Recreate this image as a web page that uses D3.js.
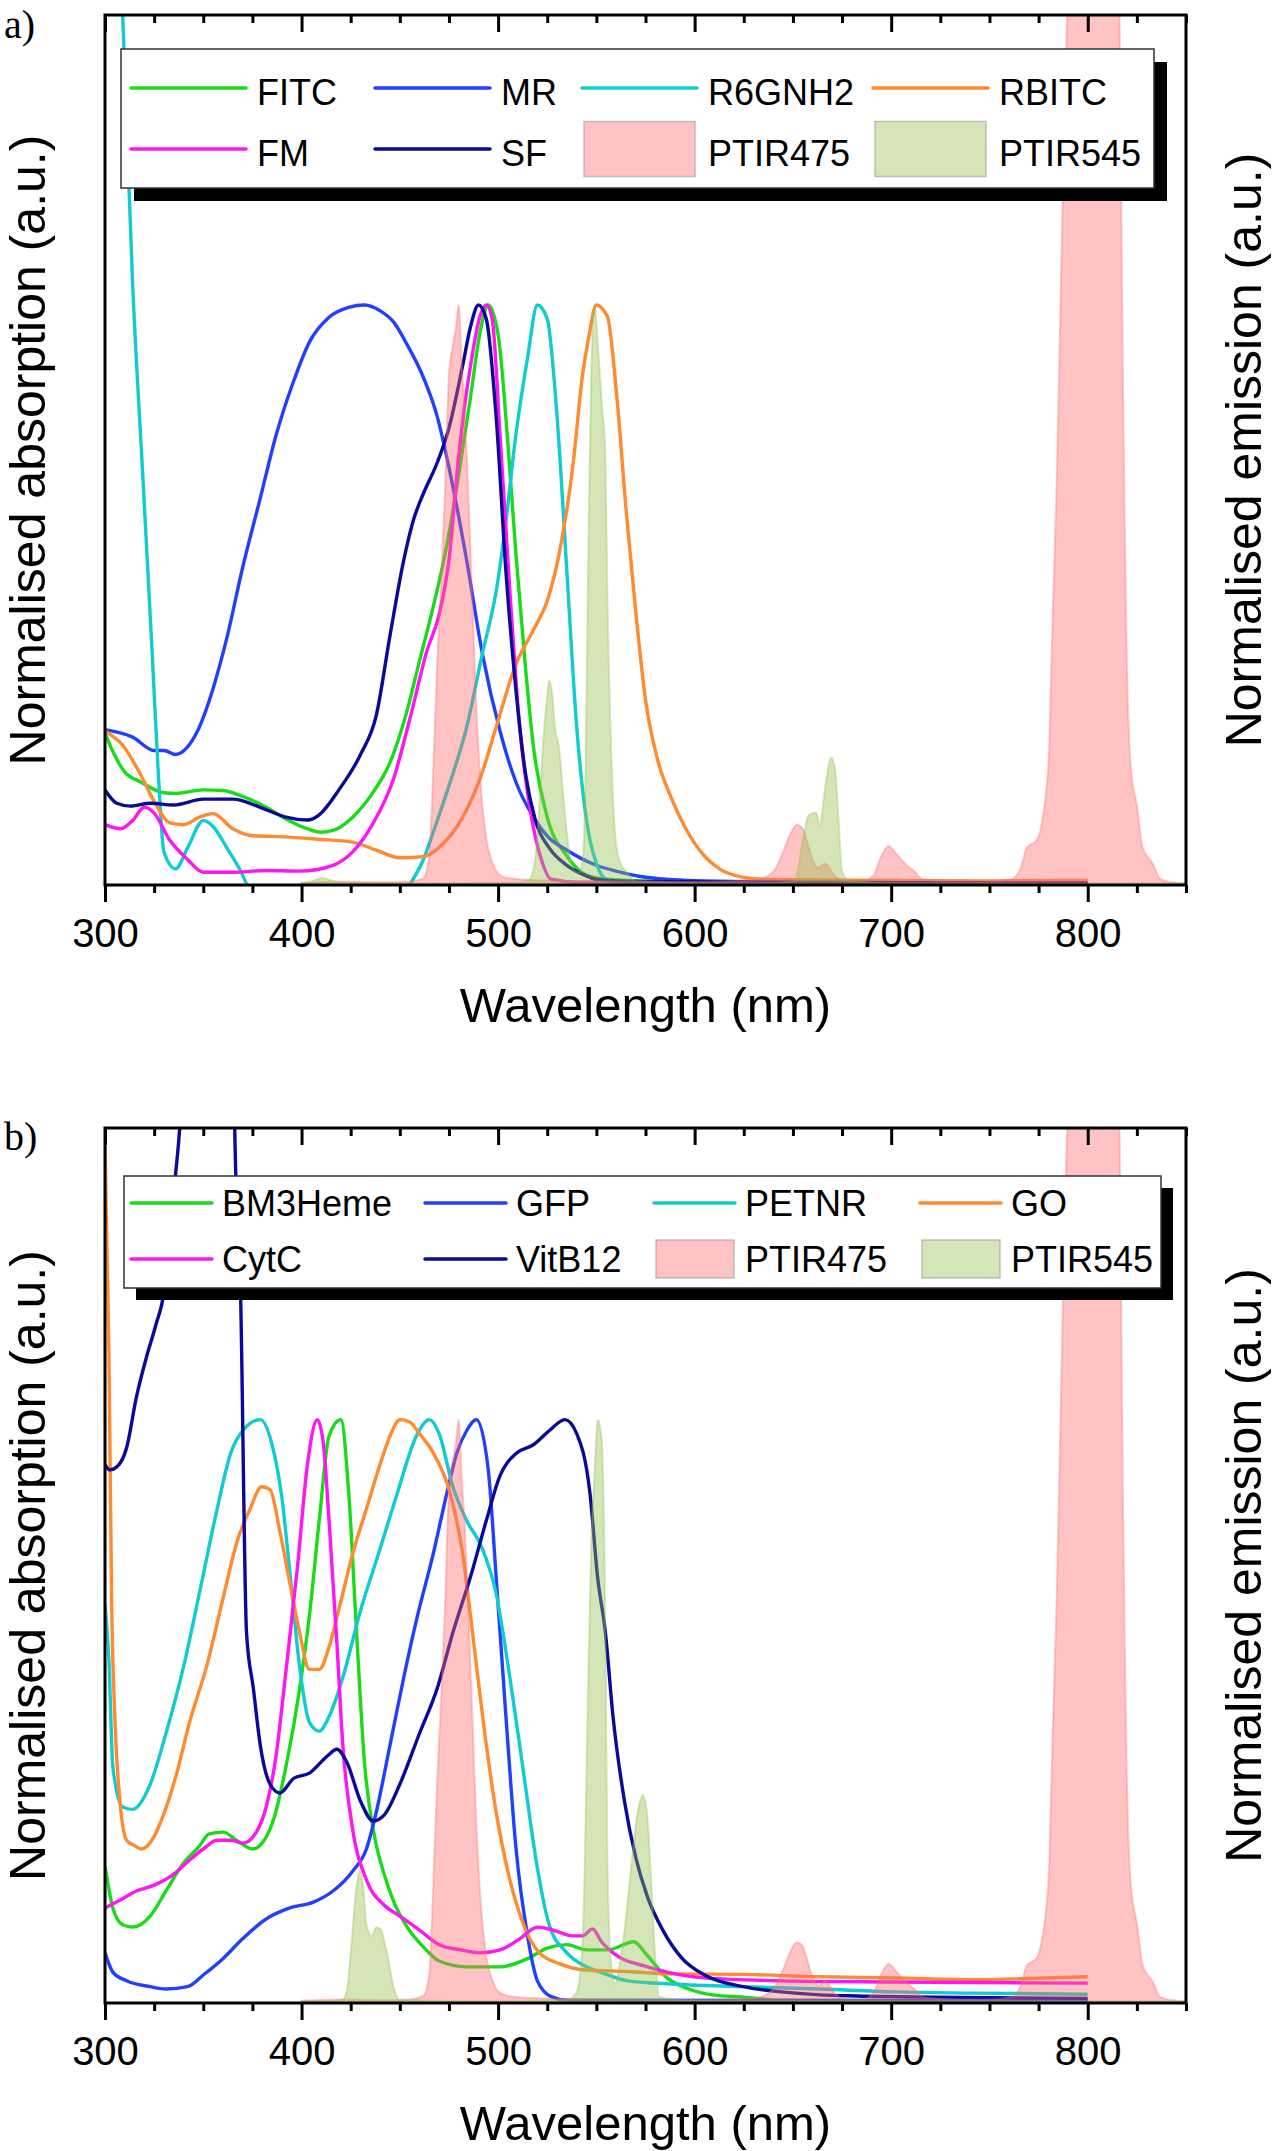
<!DOCTYPE html>
<html>
<head>
<meta charset="utf-8">
<script src="https://cdn.jsdelivr.net/npm/d3@7"></script>
<style>
  body { margin: 0; background: #fff; }
  svg text { font-family: "Liberation Sans", Arial, sans-serif; fill: #000; }
</style>
</head>
<body>
<div id="chart"></div>
<script>
// ---- data: [wavelength nm, normalised value] ----
// panel a) absorption
var fitc = [[300,0.262],[304,0.23],[310,0.195],[318,0.178],[330,0.159],[336,0.158],[350,0.164],[360,0.163],[369,0.154],[382,0.134],[392,0.114],[403,0.097],[410,0.091],[416,0.094],[426,0.117],[436,0.158],[445,0.211],[453,0.292],[460,0.386],[467,0.48],[474,0.587],[480,0.708],[486,0.842],[491,0.956],[495,1.0],[500,0.949],[505,0.761],[509,0.574],[514,0.372],[518,0.238],[525,0.117],[535,0.05],[545,0.017],[555,0.01],[600,0.005],[700,0.004],[800,0.003]];
var mr = [[300,0.268],[314,0.255],[325,0.232],[330,0.232],[336,0.225],[342,0.238],[347,0.265],[355,0.339],[362,0.426],[370,0.547],[379,0.667],[387,0.775],[396,0.869],[404,0.936],[414,0.979],[424,0.996],[432,1.0],[440,0.99],[447,0.97],[453,0.936],[462,0.875],[469,0.808],[475,0.72],[484,0.56],[492,0.399],[501,0.265],[509,0.178],[518,0.117],[526,0.081],[535,0.06],[550,0.034],[560,0.024],[576,0.013],[605,0.007],[650,0.005],[800,0.004]];
var r6gnh2 = [[300,2.2],[305,1.8],[309,1.5],[314,1.04],[319,0.72],[324,0.4],[327,0.2],[330,0.057],[336,0.028],[342,0.064],[350,0.111],[355,0.101],[362,0.064],[369,0.024],[375,-0.02],[390,-0.08],[420,-0.1],[445,-0.05],[455,0.0],[462,0.044],[467,0.091],[475,0.171],[484,0.272],[492,0.399],[499,0.506],[504,0.627],[509,0.775],[515,0.909],[520,1.0],[525,0.976],[530,0.808],[535,0.54],[540,0.272],[545,0.111],[550,0.037],[555,0.01],[570,0.003],[800,0.002]];
var rbitc = [[300,0.265],[309,0.241],[318,0.191],[326,0.138],[333,0.107],[340,0.104],[348,0.117],[355,0.123],[365,0.097],[375,0.085],[391,0.083],[408,0.079],[426,0.074],[438,0.06],[450,0.047],[462,0.049],[472,0.071],[482,0.117],[491,0.185],[499,0.272],[509,0.38],[518,0.44],[525,0.49],[531,0.57],[538,0.721],[543,0.88],[546,0.942],[550,1.0],[555.6,0.98],[560.4,0.842],[565.3,0.64],[570.2,0.466],[575,0.319],[581,0.218],[588,0.151],[595.5,0.097],[605,0.05],[613,0.027],[625,0.013],[634,0.01],[650,0.009],[700,0.008],[750,0.007],[800,0.008]];
var fm = [[300,0.104],[308,0.097],[314,0.111],[320,0.134],[325,0.124],[333,0.077],[342,0.044],[350,0.022],[365,0.022],[382,0.025],[399,0.024],[416,0.034],[426,0.057],[436,0.104],[447,0.185],[455,0.285],[464,0.406],[470,0.466],[475,0.56],[480,0.741],[486,0.896],[491,0.983],[494,1.0],[497,0.976],[501,0.775],[506,0.506],[511,0.272],[517,0.117],[522,0.044],[527,0.01],[540,0.005],[800,0.003]];
var sf = [[300,0.164],[306,0.141],[313,0.136],[323,0.141],[335,0.138],[350,0.148],[365,0.148],[379,0.134],[392,0.117],[403,0.112],[409,0.121],[419,0.164],[430,0.225],[438,0.292],[445,0.43],[452,0.56],[457,0.63],[462,0.675],[469,0.728],[475,0.788],[482,0.896],[486,0.963],[490,1.0],[494,0.976],[499,0.808],[504,0.54],[509,0.339],[514,0.191],[519,0.111],[526,0.064],[535,0.034],[544,0.017],[550,0.01],[570,0.006],[800,0.003]];

// panel b) absorption
var bm3heme = [[300,0.235],[304,0.163],[309,0.134],[314,0.13],[323,0.149],[331,0.192],[340,0.24],[348,0.269],[353,0.29],[360,0.293],[367,0.279],[375,0.264],[381,0.279],[386,0.317],[392,0.404],[399,0.538],[404,0.664],[409,0.827],[414,0.972],[420,1.0],[424,0.875],[428,0.635],[432,0.413],[437,0.288],[442,0.221],[447,0.173],[453,0.134],[462,0.096],[470,0.072],[484,0.062],[501,0.062],[515,0.076],[525,0.094],[535,0.1],[545,0.091],[556,0.091],[569,0.105],[576,0.081],[586,0.043],[597,0.024],[609,0.014],[625,0.01],[644,0.005],[800,0.003]];
var gfp = [[300,0.086],[304,0.053],[311,0.038],[323,0.028],[331,0.024],[342,0.028],[350,0.048],[360,0.076],[370,0.11],[382,0.144],[394,0.163],[406,0.173],[416,0.192],[426,0.226],[433,0.264],[438,0.327],[445,0.442],[452,0.558],[459,0.664],[467,0.77],[474,0.875],[479,0.943],[484,0.981],[489,1.0],[495,0.914],[499,0.731],[504,0.491],[509,0.269],[515,0.115],[520,0.038],[527,0.011],[535,0.005],[800,0.004]];
var petnr = [[300,0.683],[302,0.587],[304,0.404],[309,0.336],[314,0.332],[323,0.375],[331,0.462],[340,0.577],[348,0.702],[357,0.846],[364,0.943],[370,0.981],[379,1.0],[385,0.957],[390,0.866],[394,0.741],[399,0.577],[404,0.481],[409,0.466],[414,0.491],[421,0.558],[430,0.673],[440,0.779],[448,0.866],[459,0.976],[465,1.0],[470,0.976],[477,0.885],[484,0.827],[492,0.779],[499,0.702],[506,0.558],[513,0.394],[520,0.231],[526,0.134],[535,0.086],[545,0.062],[552,0.053],[566,0.038],[586,0.033],[625,0.028],[663,0.024],[702,0.019],[741,0.017],[800,0.015]];
var go = [[300,1.47],[302,1.116],[303.4,0.683],[305,0.491],[307.6,0.346],[311,0.279],[314.4,0.271],[318.6,0.264],[324.6,0.283],[329.7,0.322],[336.5,0.394],[343,0.481],[351.7,0.577],[360,0.693],[367,0.789],[373.8,0.847],[379.7,0.885],[384,0.88],[389,0.808],[394,0.721],[399,0.635],[404,0.572],[409,0.572],[414.5,0.616],[419.6,0.683],[426,0.77],[433,0.847],[440,0.924],[445,0.972],[450,1.0],[455,0.996],[460,0.976],[467,0.943],[475.5,0.875],[482,0.77],[487,0.635],[492.5,0.481],[499,0.327],[506,0.211],[513,0.134],[521,0.086],[531.5,0.067],[543,0.057],[566,0.054],[586,0.05],[625,0.049],[663,0.045],[703,0.043],[741.5,0.04],[780,0.043],[800,0.045]];
var cytc = [[300,0.163],[308,0.177],[316,0.192],[325,0.202],[335,0.221],[343,0.245],[350,0.264],[357,0.279],[364,0.279],[370,0.274],[377,0.293],[382,0.336],[387,0.423],[392,0.567],[398,0.75],[403,0.923],[408,1.0],[411,0.962],[414,0.827],[418,0.616],[421,0.442],[426,0.298],[433,0.211],[442,0.168],[450,0.149],[460,0.125],[470,0.1],[481,0.091],[491,0.086],[501,0.091],[511,0.11],[520,0.13],[528,0.125],[538,0.115],[543,0.115],[548,0.127],[552.6,0.105],[558.5,0.086],[576,0.062],[586,0.053],[605,0.043],[644,0.038],[702,0.036],[800,0.034]];
var vitb12 = [[300,0.923],[302.5,0.914],[306,0.919],[311,0.952],[316,1.039],[321,1.106],[326,1.164],[330,1.22],[333,1.328],[336,1.424],[338,1.5],[345,2.2],[352,2.6],[360,2.7],[364,2.0],[366,1.5],[369,1.212],[372,0.635],[375.5,0.539],[379,0.442],[384,0.375],[389,0.36],[396,0.385],[404,0.394],[413,0.423],[418,0.435],[423,0.413],[430,0.346],[436.5,0.312],[442,0.322],[450,0.375],[460,0.462],[469,0.539],[477,0.635],[486,0.731],[494,0.827],[501,0.904],[509.5,0.943],[518,0.957],[526,0.981],[534,1.0],[540,0.976],[546.7,0.875],[550.6,0.731],[554.6,0.635],[558.5,0.49],[564.3,0.346],[570,0.25],[576,0.182],[583.8,0.125],[593.5,0.077],[605,0.048],[624.7,0.028],[644,0.019],[663.6,0.014],[683,0.012],[722,0.01],[800,0.008]];

// emission spectra
var ptir475 = [[400,0.004],[420,0.006],[440,0.005],[455,0.006],[462,0.012],[465,0.05],[467,0.2],[469,0.38],[471,0.52],[473,0.68],[475,0.88],[477,0.93],[478.5,0.96],[480,1.0],[481.5,0.9],[483,0.82],[485,0.66],[487,0.48],[489,0.3],[491,0.18],[494,0.08],[497,0.04],[500,0.02],[505,0.012],[520,0.008],[560,0.006],[600,0.005],[630,0.008],[640,0.023],[645,0.057],[649,0.09],[652,0.104],[655,0.097],[657,0.077],[660,0.044],[663,0.03],[666.5,0.037],[671,0.017],[676,0.007],[685,0.006],[691,0.017],[695,0.05],[698.7,0.067],[702.6,0.054],[707,0.037],[712,0.023],[716,0.01],[730,0.006],[750,0.006],[761,0.01],[766,0.03],[769,0.064],[774,0.077],[776.5,0.104],[778.5,0.151],[780.4,0.238],[782,0.44],[784.3,0.708],[786,0.976],[788,1.3],[791,1.7],[795,2.4],[800,3.0],[805,3.2],[810,3.0],[814,2.2],[816.5,1.4],[818,0.84],[819,0.57],[820,0.37],[822,0.2],[825,0.137],[828,0.064],[833,0.037],[837,0.01],[845,0.004],[850,0.003]];
var ptir545a = [[400,0.003],[405,0.006],[410,0.012],[415,0.008],[420,0.004],[460,0.003],[510,0.004],[516,0.01],[519,0.05],[521,0.138],[523,0.25],[524.5,0.31],[526,0.352],[527.5,0.33],[529,0.27],[531,0.238],[533,0.16],[535,0.09],[537,0.04],[539,0.025],[541,0.022],[543,0.04],[544.5,0.2],[546,0.6],[547.5,0.9],[549,1.0],[551,0.92],[553,0.82],[554.5,0.75],[555.6,0.5],[557.5,0.238],[559.5,0.09],[562,0.04],[566,0.02],[570,0.007],[600,0.004],[640,0.004],[651,0.007],[655,0.077],[658,0.12],[661.7,0.125],[663.6,0.104],[666.5,0.17],[669.5,0.22],[671.4,0.2],[673.4,0.104],[675,0.023],[679,0.007],[700,0.004],[850,0.003]];
var ptir545b = [[400,0.003],[415,0.003],[421,0.006],[423,0.02],[425.5,0.105],[428,0.2],[429.7,0.225],[431.4,0.2],[433,0.134],[435.7,0.115],[438,0.13],[440.5,0.125],[442.5,0.1],[444,0.077],[446.7,0.029],[450,0.005],[500,0.003],[535,0.005],[540,0.019],[543,0.105],[545.8,0.539],[547.6,0.81],[549,0.9],[550.7,1.0],[552.6,0.97],[554.6,0.635],[555.6,0.25],[557.5,0.067],[559.5,0.033],[562.4,0.077],[565.3,0.153],[568.2,0.25],[571,0.327],[573.7,0.356],[576,0.317],[578,0.202],[580,0.077],[582,0.01],[600,0.004],[850,0.003]];

var majorTicks = [300, 400, 500, 600, 700, 800];
var minorTicks = [325, 350, 375, 425, 450, 475, 525, 550, 575, 625, 650, 675, 725, 750, 775, 825, 850];

var green = "#19dc19", blue = "#2040ff", cyan = "#10ccd0",
    orange = "#ff8a30", magenta = "#ff14f2", navy = "#0a0a9a",
    pink = "#ff6a6a", olive = "#93c04d";

var width = 1273, height = 2151;
var svg = d3.select("#chart").append("svg")
    .attr("width", width)
    .attr("height", height);

svg.append("rect").attr("width", width).attr("height", height).attr("fill", "#fff");

var x = d3.scaleLinear().domain([300, 850]).range([105, 1186]);

function drawPanel(p) {
  var y = d3.scaleLinear().domain([0, 1.5]).range([p.bottom, p.top]);
  var g = svg.append("g");

  // clip to plot box
  g.append("clipPath").attr("id", "clip" + p.id)
    .append("rect")
      .attr("x", x(300)).attr("y", p.top)
      .attr("width", x(850) - x(300)).attr("height", p.bottom - p.top);

  var plot = g.append("g").attr("clip-path", "url(#clip" + p.id + ")");

  var line = d3.line()
    .x(function(d) { return x(d[0]); })
    .y(function(d) { return y(d[1]); })
    .curve(d3.curveMonotoneX);

  var area = d3.area()
    .x(function(d) { return x(d[0]); })
    .y0(y(0))
    .y1(function(d) { return y(d[1]); })
    .curve(d3.curveMonotoneX);

  p.lines.forEach(function(s) {
    plot.append("path")
      .datum(s.data)
      .attr("d", line)
      .attr("fill", "none")
      .attr("stroke", s.color)
      .attr("stroke-width", 3.4)
      .attr("stroke-linejoin", "round");
  });

  // emission drawn over the absorption lines, semi transparent
  p.fills.forEach(function(s) {
    plot.append("path")
      .datum(s.data)
      .attr("d", area)
      .attr("fill", s.color)
      .attr("fill-opacity", 0.4)
      .attr("stroke", s.color)
      .attr("stroke-opacity", 0.35)
      .attr("stroke-width", 2);
  });

  // frame
  g.append("rect")
    .attr("x", x(300)).attr("y", p.top)
    .attr("width", x(850) - x(300)).attr("height", p.bottom - p.top)
    .attr("fill", "none")
    .attr("stroke", "#000")
    .attr("stroke-width", 3);

  // bottom axis, ticks outward
  var bottomMajor = g.append("g")
    .attr("transform", "translate(0," + p.bottom + ")")
    .call(d3.axisBottom(x).tickValues(majorTicks).tickSize(17).tickSizeOuter(0).tickPadding(17));
  var bottomMinor = g.append("g")
    .attr("transform", "translate(0," + p.bottom + ")")
    .call(d3.axisBottom(x).tickValues(minorTicks).tickSize(8).tickSizeOuter(0).tickFormat(""));
  // top axis, ticks inward
  var topMajor = g.append("g")
    .attr("transform", "translate(0," + p.top + ")")
    .call(d3.axisBottom(x).tickValues(majorTicks).tickSize(17).tickSizeOuter(0).tickFormat(""));
  var topMinor = g.append("g")
    .attr("transform", "translate(0," + p.top + ")")
    .call(d3.axisBottom(x).tickValues(minorTicks).tickSize(8).tickSizeOuter(0).tickFormat(""));

  [bottomMajor, bottomMinor, topMajor, topMinor].forEach(function(a) {
    a.select(".domain").remove();
    a.selectAll(".tick line").attr("stroke", "#000").attr("stroke-width", 3);
  });
  bottomMajor.selectAll(".tick text")
    .attr("font-family", "'Liberation Sans', Arial, sans-serif")
    .attr("font-size", 40)
    .attr("fill", "#000");

  // axis titles
  g.append("text")
    .attr("x", (x(300) + x(850)) / 2)
    .attr("y", p.bottom + 137)
    .attr("text-anchor", "middle")
    .style("font-size", "49px")
    .text("Wavelength (nm)");

  var midY = (p.top + p.bottom) / 2;
  g.append("text")
    .attr("transform", "translate(45," + midY + ") rotate(-90)")
    .attr("text-anchor", "middle")
    .style("font-size", "50px")
    .text("Normalised absorption (a.u.)");
  g.append("text")
    .attr("transform", "translate(1261," + midY + ") rotate(-90)")
    .attr("text-anchor", "middle")
    .style("font-size", "50px")
    .text("Normalised emission (a.u.)");

  // panel tag
  g.append("text")
    .attr("x", 4)
    .attr("y", p.tagY)
    .style("font-family", "'Liberation Serif', 'Times New Roman', serif")
    .style("font-size", "40px")
    .text(p.tag);

  // legend
  var L = p.legend;
  g.append("rect")
    .attr("x", L.box[0] + L.shadow).attr("y", L.box[1] + L.shadow)
    .attr("width", L.box[2] - L.box[0]).attr("height", L.box[3] - L.box[1])
    .attr("fill", "#000");
  g.append("rect")
    .attr("x", L.box[0]).attr("y", L.box[1])
    .attr("width", L.box[2] - L.box[0]).attr("height", L.box[3] - L.box[1])
    .attr("fill", "#fff")
    .attr("stroke", "#333")
    .attr("stroke-width", 1.5);

  var items = p.lines.map(function(s) { return {name: s.name, color: s.color, fill: false}; })
    .concat(p.fills.map(function(s) { return {name: s.name, color: s.color, fill: true}; }));

  items.forEach(function(it, i) {
    var cx = L.cols[i % 4], cy = L.rows[Math.floor(i / 4)];
    if (it.fill) {
      g.append("rect")
        .attr("x", cx + 2).attr("y", cy - L.sw[1] / 2)
        .attr("width", L.sw[0]).attr("height", L.sw[1])
        .attr("fill", it.color).attr("fill-opacity", 0.4)
        .attr("stroke", "#a09a9a").attr("stroke-opacity", 0.6)
        .attr("stroke-width", 1.5);
    } else {
      g.append("line")
        .attr("x1", cx).attr("x2", cx + L.lineLen)
        .attr("y1", cy).attr("y2", cy)
        .attr("stroke", it.color)
        .attr("stroke-width", 3.5)
        .attr("stroke-linecap", "round");
    }
    g.append("text")
      .attr("x", cx + L.lineLen + L.gap)
      .attr("y", cy + L.textShift)
      .attr("dy", "0.36em")
      .style("font-size", "36px")
      .text(it.name);
  });
}

drawPanel({
  id: "a", top: 15, bottom: 885, tag: "a)", tagY: 38,
  lines: [
    {name: "FITC", data: fitc, color: green},
    {name: "MR", data: mr, color: blue},
    {name: "R6GNH2", data: r6gnh2, color: cyan},
    {name: "RBITC", data: rbitc, color: orange},
    {name: "FM", data: fm, color: magenta},
    {name: "SF", data: sf, color: navy}
  ],
  fills: [
    {name: "PTIR475", data: ptir475, color: pink},
    {name: "PTIR545", data: ptir545a, color: olive}
  ],
  legend: {box: [121, 49, 1154, 188], shadow: 13, cols: [131, 375, 582, 873], rows: [88, 149],
           lineLen: 115, gap: 11, sw: [111, 55], textShift: 4}
});

drawPanel({
  id: "b", top: 1128, bottom: 2003, tag: "b)", tagY: 1150,
  lines: [
    {name: "BM3Heme", data: bm3heme, color: green},
    {name: "GFP", data: gfp, color: blue},
    {name: "PETNR", data: petnr, color: cyan},
    {name: "GO", data: go, color: orange},
    {name: "CytC", data: cytc, color: magenta},
    {name: "VitB12", data: vitb12, color: navy}
  ],
  fills: [
    {name: "PTIR475", data: ptir475, color: pink},
    {name: "PTIR545", data: ptir545b, color: olive}
  ],
  legend: {box: [124, 1176, 1161, 1288], shadow: 12, cols: [131, 425, 654, 920], rows: [1203, 1259],
           lineLen: 81, gap: 10, sw: [78, 38], textShift: 0}
});
</script>
</body>
</html>
